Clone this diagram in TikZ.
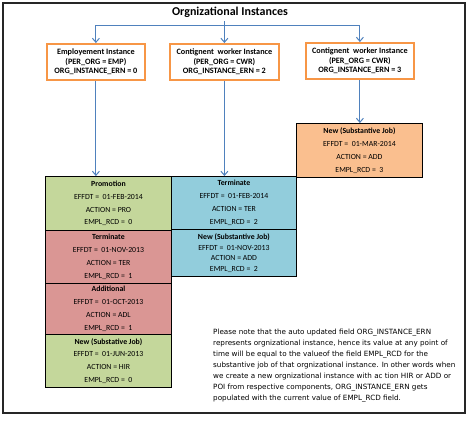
\documentclass[tikz,border=0pt]{standalone}
\usepackage{fontspec}
\setmainfont{Carlito}
\newfontfamily\notefont{DejaVu Sans}
\usetikzlibrary{arrows.meta}
\definecolor{instorange}{HTML}{F79646}
\definecolor{jobgreen}{HTML}{C4D79B}
\definecolor{jobred}{HTML}{DA9694}
\definecolor{jobblue}{HTML}{92CDDC}
\definecolor{joborange}{HTML}{FABF8F}
\definecolor{linkblue}{HTML}{4F81BD}
\tikzset{
  inst/.style={draw=instorange, line width=1.8pt, fill=white, align=center, inner sep=0pt,
    anchor=north west, minimum height=36pt, font=\fontsize{8.2}{9.7}\selectfont\bfseries},
  job/.style={draw=black, line width=0.9pt, align=center, inner sep=0pt, anchor=north west,
    minimum width=126pt, font=\fontsize{7.8}{12.8}\selectfont},
  link/.style={draw=linkblue, line width=1pt, -{Straight Barb[length=4pt,width=7pt]}}
}
\begin{document}
\begin{tikzpicture}[x=1pt,y=-1pt]
\useasboundingbox (0,0) rectangle (474,424);
\draw[line width=1.2pt, draw=black!85] (3,3) rectangle (465,413);
% title and instances
\node[font=\fontsize{12}{14}\selectfont\bfseries] (title) at (230,12) {Orgnizational Instances};
\node[inst, minimum width=98pt] (emp) at (46,43) {Employement Instance\\(PER\_ORG = EMP)\\ORG\_INSTANCE\_ERN = 0};
\node[inst, minimum width=109pt] (cwrA) at (169,43) {Contignent \ worker Instance\\(PER\_ORG = CWR)\\ORG\_INSTANCE\_ERN = 2};
\node[inst, minimum width=108pt] (cwrB) at (305,42) {Contignent \ worker Instance\\(PER\_ORG = CWR)\\ORG\_INSTANCE\_ERN = 3};
% job rows, first column
\node[job, fill=jobgreen, minimum height=54pt] (prom) at (45,176) {\textbf{Promotion}\\EFFDT = \ 01-FEB-2014\\ACTION = PRO\\EMPL\_RCD = \ 0};
\node[job, fill=jobred, minimum height=53pt] (termA) at (45,230) {\textbf{Terminate}\\EFFDT = \ 01-NOV-2013\\ACTION = TER\\EMPL\_RCD = \ 1};
\node[job, fill=jobred, minimum height=51pt] (addl) at (45,283) {\textbf{Additional}\\EFFDT = \ 01-OCT-2013\\ACTION = ADL\\EMPL\_RCD = \ 1};
\node[job, fill=jobgreen, minimum height=53pt] (newA) at (45,334) {\textbf{New (Substative Job)}\\EFFDT = \ 01-JUN-2013\\ACTION = HIR\\EMPL\_RCD = \ 0};
% second column
\node[job, fill=jobblue, minimum width=125pt, minimum height=53pt] (termB) at (171,176) {\textbf{Terminate}\\EFFDT = \ 01-FEB-2014\\ACTION = TER\\EMPL\_RCD = \ 2};
\node[job, fill=jobblue, minimum width=125pt, minimum height=47pt, font=\fontsize{7.8}{10.6}\selectfont] (newB) at (171,229) {\textbf{New (Substantive Job)}\\EFFDT = \ 01-NOV-2013\\ACTION = ADD\\EMPL\_RCD = \ 2};
% third column
\node[job, fill=joborange, minimum height=54pt] (newC) at (296,123) {\textbf{New (Substantive Job)}\\EFFDT = \ 01-MAR-2014\\ACTION = ADD\\EMPL\_RCD = \ 3};
% links
\coordinate (split) at (223.5,25);
\draw[link] (title.south -| cwrA.north) -- (cwrA.north);
\draw[link] (split) -| (emp.north);
\draw[link] (split) -| (cwrB.north);
\draw[link] (emp.south) -- (prom.north -| emp.south);
\draw[link] (cwrA.south) -- (termB.north -| cwrA.south);
\draw[link] (cwrB.south) -- (newC.north -| cwrB.south);
% note
\node[anchor=north west, align=left, inner sep=0pt, font=\notefont\fontsize{7.2}{11}\selectfont] (note) at (213,329)
  {Please note that the auto updated field ORG\_INSTANCE\_ERN\\
   represents orgnizational instance, hence its value at any point of\\
   time will be equal to the valueof the field EMPL\_RCD for the\\
   substantive job of that orgnizational instance. In other words when\\
   we create a new orgnizational instance with ac tion HIR or ADD or\\
   POI from respective components, ORG\_INSTANCE\_ERN gets\\
   populated with the current value of EMPL\_RCD field.};
\end{tikzpicture}
\end{document}
